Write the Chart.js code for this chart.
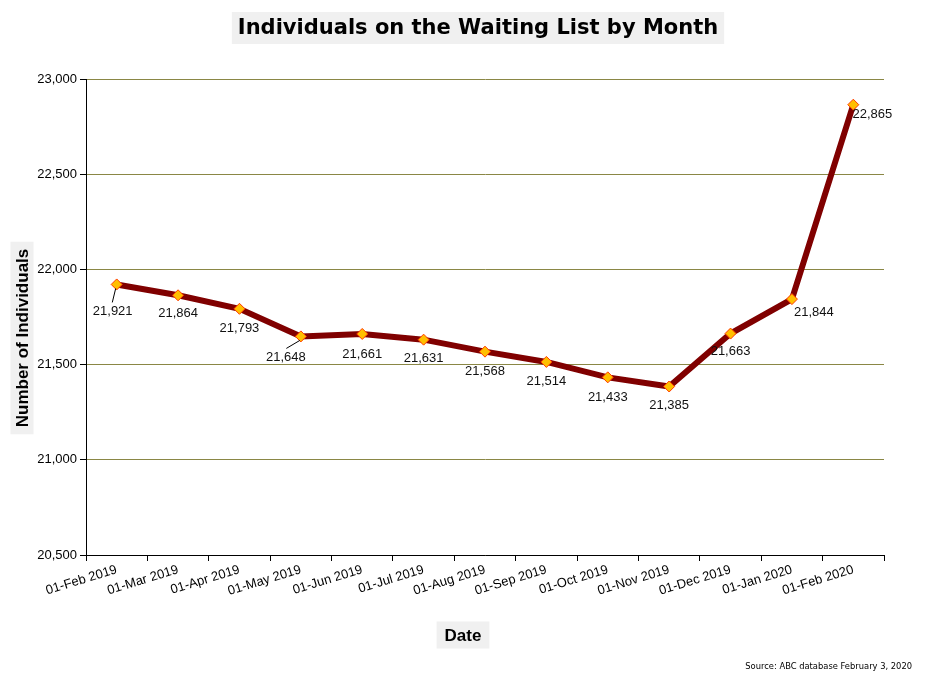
<!DOCTYPE html>
<html>
<head>
<meta charset="utf-8">
<script src="https://cdn.jsdelivr.net/npm/chart.js@4.4.1/dist/chart.umd.min.js"></script>
<style>
  html, body { margin: 0; padding: 0; background: #fff; }
  #wrap { width: 927px; height: 684px; }
</style>
</head>
<body>
<div id="wrap"><canvas id="chart" width="927" height="684"></canvas></div>
<script>
// chart data
const months = ['01-Feb 2019', '01-Mar 2019', '01-Apr 2019', '01-May 2019', '01-Jun 2019',
  '01-Jul 2019', '01-Aug 2019', '01-Sep 2019', '01-Oct 2019', '01-Nov 2019',
  '01-Dec 2019', '01-Jan 2020', '01-Feb 2020'];
const waitingList = [21921, 21864, 21793, 21648, 21661, 21631, 21568, 21514, 21433, 21385, 21663, 21844, 22865];
const yTicks = [20500, 21000, 21500, 22000, 22500, 23000];

// where each value label sits relative to its marker (dx, dy, leader line)
const labelOffsets = [[-4, 27, true], [0, 18], [0, 20], [-15, 21, true], [0, 20], [0, 19], [0, 20],
  [0, 19], [0, 20], [0, 19], [0, 18], [22, 13], [19, 10]];

const fmt = v => v.toLocaleString('en-US');

// value labels next to the markers
const valueLabels = {
  id: 'valueLabels',
  afterDatasetsDraw(chart) {
    const ctx = chart.ctx;
    const meta = chart.getDatasetMeta(0);
    ctx.save();
    ctx.font = '13px "Liberation Sans", Arial, sans-serif';
    ctx.textAlign = 'center';
    ctx.textBaseline = 'middle';
    meta.data.forEach((pt, i) => {
      const [dx, dy, leader] = labelOffsets[i];
      const x = pt.x + dx, y = pt.y + dy;
      if (leader) {
        ctx.strokeStyle = '#000';
        ctx.lineWidth = 1;
        ctx.beginPath();
        ctx.moveTo(pt.x - 1, pt.y + 4);
        ctx.lineTo(x + dx * 0.1 + (dx < -8 ? 2 : 0), y - 9);
        ctx.stroke();
      }
      ctx.fillStyle = '#111';
      ctx.fillText(fmt(waitingList[i]), x, y);
    });
    ctx.restore();
  }
};

// title, axis titles on grey boxes and the source note
function boxedText(ctx, text, cx, cy, font, padX, padY, rotate) {
  ctx.save();
  ctx.translate(cx, cy);
  if (rotate) ctx.rotate(-Math.PI / 2);
  ctx.font = font;
  const w = ctx.measureText(text).width;
  const m = ctx.measureText('Hg');
  const h = m.actualBoundingBoxAscent + m.actualBoundingBoxDescent;
  ctx.fillStyle = '#f0f0f0';
  ctx.fillRect(-w / 2 - padX, -h / 2 - padY, w + 2 * padX, h + 2 * padY);
  ctx.fillStyle = '#000';
  ctx.textAlign = 'center';
  ctx.textBaseline = 'middle';
  ctx.fillText(text, 0, 1);
  ctx.restore();
}

const decorations = {
  id: 'decorations',
  afterDraw(chart) {
    const ctx = chart.ctx;
    boxedText(ctx, 'Individuals on the Waiting List by Month', 478, 28,
      'bold 21px "DejaVu Sans", Verdana, sans-serif', 6, 6);
    boxedText(ctx, 'Number of Individuals', 22, 338,
      'bold 17px "Liberation Sans", Arial, sans-serif', 7, 4, true);
    boxedText(ctx, 'Date', 463, 635,
      'bold 17px "Liberation Sans", Arial, sans-serif', 8, 6);
    // source note, squeezed to the width it has in the original
    const note = 'Source: ABC database February 3, 2020';
    ctx.save();
    ctx.font = '10px "DejaVu Sans", Tahoma, sans-serif';
    const size = 10 * 167 / ctx.measureText(note).width;
    ctx.font = size.toFixed(2) + 'px "DejaVu Sans", Tahoma, sans-serif';
    ctx.fillStyle = '#000';
    ctx.textAlign = 'right';
    ctx.textBaseline = 'middle';
    ctx.fillText(note, 912, 667);
    ctx.restore();
  }
};

const whiteBg = {
  id: 'whiteBg',
  beforeDraw(chart) {
    const ctx = chart.ctx;
    ctx.save();
    ctx.fillStyle = '#fff';
    ctx.fillRect(0, 0, chart.width, chart.height);
    ctx.restore();
  }
};

new Chart(document.getElementById('chart'), {
  type: 'line',
  data: {
    labels: months,
    datasets: [{
      data: waitingList,
      borderColor: '#800000',
      borderWidth: 6,
      tension: 0,
      pointStyle: 'rectRot',
      pointRadius: 5.5,
      pointBackgroundColor: '#ffbf00',
      pointBorderColor: '#ff3a00',
      pointBorderWidth: 1
    }]
  },
  options: {
    responsive: false,
    animation: false,
    layout: { padding: { top: 79, right: 43, left: 0, bottom: 0 } },
    plugins: {
      legend: { display: false },
      tooltip: { enabled: false },
      title: { display: false }
    },
    scales: {
      x: {
        offset: true,
        grid: {
          offset: true,
          drawOnChartArea: false,
          drawTicks: true,
          tickLength: 6,
          tickColor: '#000'
        },
        border: { color: '#000', width: 1 },
        ticks: {
          color: '#000',
          font: { family: '"Liberation Sans", Arial, sans-serif', size: 13 },
          minRotation: 17,
          maxRotation: 17,
          autoSkip: false,
          padding: 1
        },
        afterFit(scale) { scale.height = 129; }
      },
      y: {
        min: 20500,
        max: 23000,
        afterBuildTicks(scale) { scale.ticks = yTicks.map(v => ({ value: v })); },
        grid: {
          color: '#8a8745',
          tickColor: '#000',
          tickLength: 6,
          lineWidth: 1
        },
        border: { color: '#000', width: 1 },
        ticks: {
          color: '#000',
          font: { family: '"Liberation Sans", Arial, sans-serif', size: 13 },
          padding: 3,
          callback: v => fmt(v)
        },
        afterFit(scale) { scale.width = 86; }
      }
    }
  },
  plugins: [whiteBg, valueLabels, decorations]
});
</script>
</body>
</html>
